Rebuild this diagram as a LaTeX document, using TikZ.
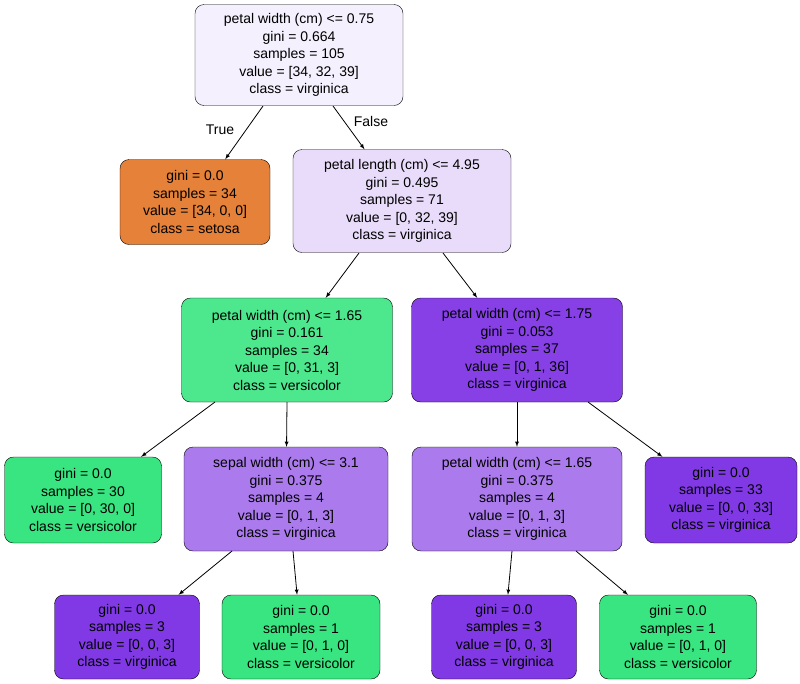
\documentclass[tikz,border=0pt]{standalone}
\usepackage{fontspec}
\setmainfont{Liberation Sans}
\begin{document}
\begin{tikzpicture}[x=1pt,y=-1pt,
  box/.style={draw,rounded corners=9pt,align=center,inner sep=0pt,font=\fontsize{14}{17.5}\selectfont},
  e/.style={-latex,line width=0.8pt},
  lab/.style={font=\fontsize{14}{17}\selectfont}]
\useasboundingbox (0,0) rectangle (800,683);
\definecolor{c0}{HTML}{F5F0FD}
\definecolor{c1}{HTML}{E58139}
\definecolor{c2}{HTML}{E9DCFA}
\definecolor{c3}{HTML}{4DE88E}
\definecolor{c4}{HTML}{8640E6}
\definecolor{c5}{HTML}{39E581}
\definecolor{c6}{HTML}{AB7BEE}
\definecolor{c7}{HTML}{8139E5}
\node[box,fill=c0,minimum width=208,minimum height=101] (r) at (299,55) {petal width (cm) <= 0.75\\gini = 0.664\\samples = 105\\value = [34, 32, 39]\\class = virginica};
\node[box,fill=c1,minimum width=150,minimum height=85] (s) at (195,202) {gini = 0.0\\samples = 34\\value = [34, 0, 0]\\class = setosa};
\node[box,fill=c2,minimum width=218,minimum height=103] (pl) at (402,201) {petal length (cm) <= 4.95\\gini = 0.495\\samples = 71\\value = [0, 32, 39]\\class = virginica};
\node[box,fill=c3,minimum width=211,minimum height=104] (lm) at (287,350) {petal width (cm) <= 1.65\\gini = 0.161\\samples = 34\\value = [0, 31, 3]\\class = versicolor};
\node[box,fill=c4,minimum width=211,minimum height=104] (rm) at (517,350) {petal width (cm) <= 1.75\\gini = 0.053\\samples = 37\\value = [0, 1, 36]\\class = virginica};
\node[box,fill=c5,minimum width=157,minimum height=86] (a) at (83,500) {gini = 0.0\\samples = 30\\value = [0, 30, 0]\\class = versicolor};
\node[box,fill=c6,minimum width=204,minimum height=104] (sw) at (286,499) {sepal width (cm) <= 3.1\\gini = 0.375\\samples = 4\\value = [0, 1, 3]\\class = virginica};
\node[box,fill=c6,minimum width=210,minimum height=104] (pw) at (517,499) {petal width (cm) <= 1.65\\gini = 0.375\\samples = 4\\value = [0, 1, 3]\\class = virginica};
\node[box,fill=c7,minimum width=152,minimum height=86] (b) at (721,500) {gini = 0.0\\samples = 33\\value = [0, 0, 33]\\class = virginica};
\node[box,fill=c7,minimum width=145,minimum height=84] (l1) at (127,637) {gini = 0.0\\samples = 3\\value = [0, 0, 3]\\class = virginica};
\node[box,fill=c5,minimum width=158,minimum height=84] (l2) at (301,637) {gini = 0.0\\samples = 1\\value = [0, 1, 0]\\class = versicolor};
\node[box,fill=c7,minimum width=145,minimum height=84] (l3) at (504,637) {gini = 0.0\\samples = 3\\value = [0, 0, 3]\\class = virginica};
\node[box,fill=c5,minimum width=157,minimum height=84] (l4) at (678,637) {gini = 0.0\\samples = 1\\value = [0, 1, 0]\\class = versicolor};
\draw[e] (263,106) -- (s);
\draw[e] (333,106) -- (pl);
\node[lab] (t) at (220,130) {True};
\node[lab] (f) at (371,121) {False};
\draw[e] (359,253) -- (lm);
\draw[e] (443,253) -- (rm);
\draw[e] (215,402) -- (a);
\draw[e] (287,402) -- (sw);
\draw[e] (517,402) -- (pw);
\draw[e] (588,402) -- (b);
\draw[e] (232,551) -- (l1);
\draw[e] (293,551) -- (l2);
\draw[e] (512,551) -- (l3);
\draw[e] (576,551) -- (l4);
\end{tikzpicture}
\end{document}
